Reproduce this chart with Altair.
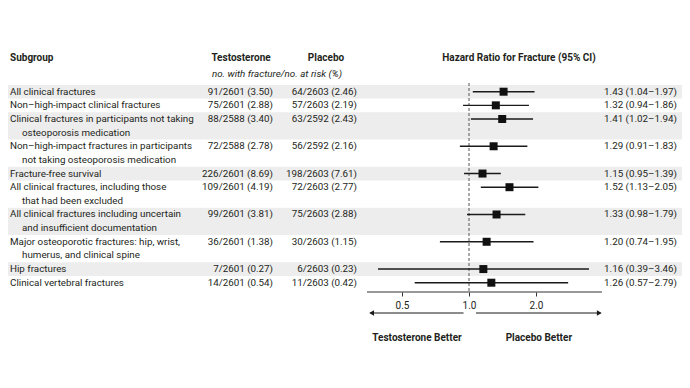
import altair as alt
import pandas as pd

subgroups = [
    "All clinical fractures",
    "Non\u2013high-impact clinical fractures",
    "Clinical fractures in participants not taking\nosteoporosis medication",
    "Non\u2013high-impact fractures in participants\nnot taking osteoporosis medication",
    "Fracture-free survival",
    "All clinical fractures, including those\nthat had been excluded",
    "All clinical fractures including uncertain\nand insufficient documentation",
    "Major osteoporotic fractures: hip, wrist,\nhumerus, and clinical spine",
    "Hip fractures",
    "Clinical vertebral fractures",
]
testo_events = [91, 75, 88, 72, 226, 109, 99, 36, 7, 14]
testo_risk = [2601, 2601, 2588, 2588, 2601, 2601, 2601, 2601, 2601, 2601]
testo_pct = [3.50, 2.88, 3.40, 2.78, 8.69, 4.19, 3.81, 1.38, 0.27, 0.54]
plac_events = [64, 57, 63, 56, 198, 72, 75, 30, 6, 11]
plac_risk = [2603, 2603, 2592, 2592, 2603, 2603, 2603, 2603, 2603, 2603]
plac_pct = [2.46, 2.19, 2.43, 2.16, 7.61, 2.77, 2.88, 1.15, 0.23, 0.42]
hr = [1.43, 1.32, 1.41, 1.29, 1.15, 1.52, 1.33, 1.20, 1.16, 1.26]
ci_lo = [1.04, 0.94, 1.02, 0.91, 0.95, 1.13, 0.98, 0.74, 0.39, 0.57]
ci_hi = [1.97, 1.86, 1.94, 1.83, 1.39, 2.05, 1.79, 1.95, 3.46, 2.79]
axis_ticks = [0.5, 1.0, 2.0]
x_domain = [0.348, 3.96]

FONT = "Roboto"
FS = 9.8
HFS = 10.0
INK = "#231f20"
W = 674
H = 284

rows, lines = [], []
cur = 0
for i, s in enumerate(subgroups):
    parts = s.split("\n")
    rows.append({
        "line": cur,
        "top": cur - 0.5,
        "bottom": cur + len(parts) - 1 + 0.5,
        "shade": i % 2 == 0,
        "testo": f"{testo_events[i]}/{testo_risk[i]} ({testo_pct[i]:.2f})",
        "plac": f"{plac_events[i]}/{plac_risk[i]} ({plac_pct[i]:.2f})",
        "hrtext": f"{hr[i]:.2f} ({ci_lo[i]:.2f}\u2013{ci_hi[i]:.2f})",
        "hr": hr[i], "lo": ci_lo[i], "hi": ci_hi[i],
    })
    for j, p in enumerate(parts):
        lines.append({"line": cur + j, "text": p, "indent": j > 0})
    cur += len(parts)
n_lines = cur - 1

rdf = pd.DataFrame(rows)
ldf = pd.DataFrame(lines)

ys = alt.Scale(domain=[0, n_lines], range=[83.7, 274.7], nice=False, zero=False)
xs = alt.Scale(type="log", domain=x_domain, range=[359, 594], nice=False)
xa = alt.Axis(values=axis_ticks, format=".1f", grid=False, ticks=True, tickSize=4,
              tickColor="#333", tickWidth=1, domain=False,
              labelFont=FONT, labelFontSize=10,
              labelColor=INK, labelPadding=4, title=None, zindex=1)
Y = alt.Y("line:Q", scale=ys, axis=None)

shade = alt.Chart(rdf).transform_filter("datum.shade").mark_rect(color="#ededed").encode(
    x=alt.value(0), x2=alt.value(W),
    y=alt.Y("top:Q", scale=ys, axis=None), y2="bottom:Q")

def txt(**kw):
    base = dict(font=FONT, fontSize=FS, color=INK, baseline="middle")
    base.update(kw)
    return base

sub_first = alt.Chart(ldf).transform_filter("!datum.indent").mark_text(**txt(align="left")).encode(
    x=alt.value(2), y=Y, text="text:N")
sub_cont = alt.Chart(ldf).transform_filter("datum.indent").mark_text(**txt(align="left")).encode(
    x=alt.value(14), y=Y, text="text:N")
testo_t = alt.Chart(rdf).mark_text(**txt(align="right")).encode(x=alt.value(265), y=Y, text="testo:N")
plac_t = alt.Chart(rdf).mark_text(**txt(align="right")).encode(x=alt.value(349), y=Y, text="plac:N")
hr_t = alt.Chart(rdf).mark_text(**txt(align="right")).encode(x=alt.value(669), y=Y, text="hrtext:N")

ref = alt.Chart(pd.DataFrame({"x": [1.0]})).mark_rule(
    color="#555", strokeDash=[3, 2], strokeWidth=1).encode(
    x=alt.X("x:Q", scale=xs, axis=xa), y=alt.value(75), y2=alt.value(H))

axis_line = alt.Chart(pd.DataFrame({"a": [x_domain[0]], "b": [x_domain[1]]})).mark_rule(
    color="#333", strokeWidth=1).encode(
    x=alt.X("a:Q", scale=xs, axis=xa), x2="b:Q", y=alt.value(H))

ci = alt.Chart(rdf).mark_rule(color="#1a1a1a", strokeWidth=1.4).encode(
    x=alt.X("lo:Q", scale=xs, axis=xa), x2="hi:Q", y=Y)
pts = alt.Chart(rdf).mark_point(shape="square", filled=True, size=64, color="#111", opacity=1).encode(
    x=alt.X("hr:Q", scale=xs, axis=xa), y=Y)

def header(t, x, y, align="center", **kw):
    return alt.Chart(pd.DataFrame({"t": [t]})).mark_text(**txt(align=align, **kw)).encode(
        x=alt.value(x), y=alt.value(y), text="t:N")

hdr_sub = header("Subgroup", 2, 50, align="left", fontWeight="bold", fontSize=HFS)
hdr_te = header("Testosterone", 233, 50, fontWeight="bold", fontSize=HFS)
hdr_pl = header("Placebo", 318, 50, fontWeight="bold", fontSize=HFS)
hdr_it = header("no. with fracture/no. at risk (%)", 269, 66, fontStyle="italic")
hdr_hr = header("Hazard Ratio for Fracture (95% CI)", 511, 50, fontWeight="bold", fontSize=HFS)

arr_df = pd.DataFrame({"x1": [0.945, 1.075], "x2": [0.36, 3.9]})
arrows = alt.Chart(arr_df).mark_rule(color="#1a1a1a", strokeWidth=1.2).encode(
    x=alt.X("x1:Q", scale=xs, axis=xa), x2="x2:Q", y=alt.value(305))
head_df = pd.DataFrame({"x": [0.365, 3.85], "s": ["triangle-left", "triangle-right"]})
heads = alt.Chart(head_df).mark_point(filled=True, size=30, color="#1a1a1a", opacity=1).encode(
    x=alt.X("x:Q", scale=xs, axis=xa), y=alt.value(305),
    shape=alt.Shape("s:N", scale=alt.Scale(domain=["triangle-left", "triangle-right"],
                                           range=["triangle-left", "triangle-right"]), legend=None))
lab_df = pd.DataFrame({"x": [0.584, 2.06], "t": ["Testosterone Better", "Placebo Better"]})
labs = alt.Chart(lab_df).mark_text(**txt(align="center", fontWeight="bold", fontSize=HFS)).encode(
    x=alt.X("x:Q", scale=xs, axis=xa), y=alt.value(330), text="t:N")

chart = alt.layer(
    shade, ref, axis_line, ci, pts, sub_first, sub_cont, testo_t, plac_t, hr_t,
    hdr_sub, hdr_te, hdr_pl, hdr_it, hdr_hr, arrows, heads, labs
).properties(
    width=W, height=H,
    autosize=alt.AutoSizeParams(type="none"),
    padding={"left": 0, "top": 0, "right": 0, "bottom": 60},
).configure(font=FONT).configure_view(stroke=None)

chart.save("out.html", embed_options={"renderer": "svg", "actions": False})
